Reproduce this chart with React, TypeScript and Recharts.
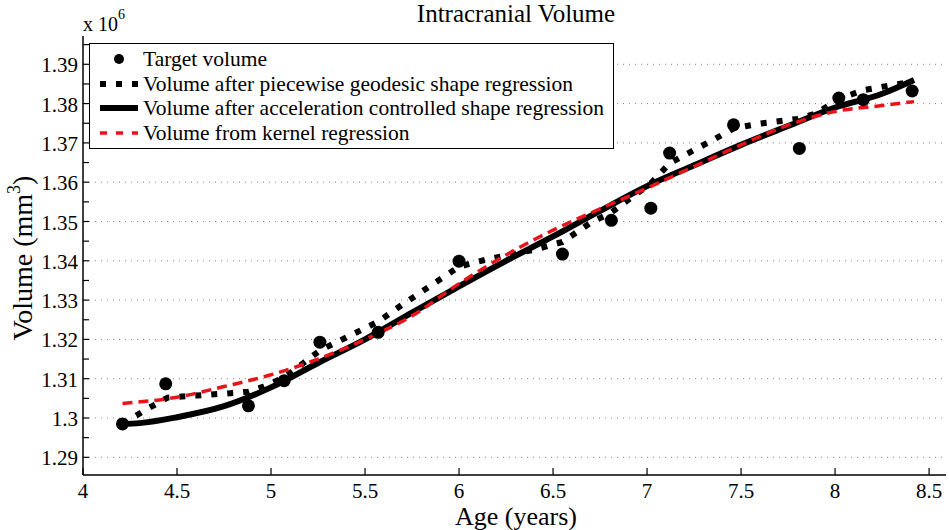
import React from "react";
import {
  ComposedChart,
  Line,
  Scatter,
  XAxis,
  YAxis,
  CartesianGrid,
  Legend,
} from "recharts";

// target volumes (x 10^6 mm^3)
const targetAge = [4.21, 4.44, 4.88, 5.07, 5.26, 5.57, 6.0, 6.55, 6.81, 7.02, 7.12, 7.46, 7.81, 8.02, 8.15, 8.41];
const targetVol = [1.2985, 1.3087, 1.3031, 1.3095, 1.3193, 1.3218, 1.3399, 1.3417, 1.3503, 1.3534, 1.3674, 1.3746, 1.3686, 1.3814, 1.381, 1.3832];

// piecewise geodesic regression
const pwAge = [4.21, 4.33, 4.45, 4.6, 4.75, 4.88, 4.96, 5.07, 5.17, 5.26, 5.4, 5.57, 5.7, 5.85, 6.0, 6.1, 6.25, 6.4, 6.55, 6.7, 6.81, 6.9, 7.02, 7.12, 7.25, 7.35, 7.46, 7.6, 7.8, 7.9, 8.02, 8.15, 8.3, 8.41];
const pwVol = [1.2985, 1.302, 1.3052, 1.3057, 1.3062, 1.3067, 1.308, 1.3103, 1.3139, 1.3172, 1.3205, 1.3245, 1.3289, 1.3337, 1.3385, 1.3398, 1.3414, 1.3428, 1.3448, 1.3497, 1.3523, 1.3555, 1.3597, 1.3648, 1.3682, 1.3707, 1.3737, 1.3749, 1.3761, 1.3775, 1.3812, 1.3834, 1.3847, 1.3855];

// acceleration controlled regression
const accAge = [4.21, 4.3, 4.5, 4.75, 5.0, 5.25, 5.5, 5.75, 6.0, 6.25, 6.5, 6.75, 7.0, 7.25, 7.5, 7.75, 8.0, 8.25, 8.42];
const accVol = [1.2985, 1.2987, 1.3002, 1.303, 1.3078, 1.314, 1.32, 1.3268, 1.3335, 1.34, 1.3462, 1.3527, 1.359, 1.3643, 1.3695, 1.3743, 1.379, 1.3825, 1.386];

// kernel regression
const kerAge = [4.21, 4.5, 4.75, 5.0, 5.25, 5.5, 5.75, 6.0, 6.25, 6.5, 6.75, 7.0, 7.25, 7.5, 7.75, 8.0, 8.25, 8.42];
const kerVol = [1.3037, 1.3053, 1.308, 1.311, 1.315, 1.32, 1.326, 1.3342, 1.3415, 1.3478, 1.3532, 1.3585, 1.364, 1.3695, 1.3745, 1.378, 1.3795, 1.3805];

const xTicks = [4, 4.5, 5, 5.5, 6, 6.5, 7, 7.5, 8, 8.5];
const yTicks = [1.29, 1.295, 1.3, 1.305, 1.31, 1.315, 1.32, 1.325, 1.33, 1.335, 1.34, 1.345, 1.35, 1.355, 1.36, 1.365, 1.37, 1.375, 1.38, 1.385, 1.39, 1.395];
const yLabelTicks = [1.29, 1.3, 1.31, 1.32, 1.33, 1.34, 1.35, 1.36, 1.37, 1.38, 1.39];

const zip = (xs: number[], ys: number[]) => xs.map((x, i) => ({ x, v: ys[i] }));
const targetData = zip(targetAge, targetVol);
const pwData = zip(pwAge, pwVol);
const accData = zip(accAge, accVol);
const kerData = zip(kerAge, kerVol);

const FONT = '"Liberation Serif", "Times New Roman", serif';
const txt = (size: number) => ({ fontFamily: FONT, fontSize: size });
const isMajor = (v: number) => Math.abs(v * 100 - Math.round(v * 100)) < 1e-6;

const BottomTick = (props: any) => {
  const { x, y, payload } = props;
  return (
    <g>
      <line x1={x} x2={x} y1={y} y2={y - 7} stroke="#000" strokeWidth={1.2} />
      <text x={x} y={y + 23} textAnchor="middle" style={txt(21)} fill="#000">
        {String(payload.value)}
      </text>
    </g>
  );
};

const TopTick = (props: any) => {
  const { x, y } = props;
  return <line x1={x} x2={x} y1={y} y2={y + 7} stroke="#000" strokeWidth={1.2} />;
};

const LeftTick = (props: any) => {
  const { x, y, payload } = props;
  const v = payload.value;
  return (
    <g>
      <line x1={x} x2={x + 6} y1={y} y2={y} stroke="#000" strokeWidth={1.2} />
      {isMajor(v) && (
        <text x={x - 5} y={y + 8} textAnchor="end" style={txt(21)} fill="#000">
          {String(Math.round(v * 100) / 100)}
        </text>
      )}
    </g>
  );
};

const RightTick = (props: any) => {
  const { x, y } = props;
  return <line x1={x} x2={x - 6} y1={y} y2={y} stroke="#000" strokeWidth={1.2} />;
};

const renderYLabel = () => (
  <text transform="translate(32,258) rotate(-90)" textAnchor="middle" style={txt(28)} fill="#000">
    Volume (mm
    <tspan dy={-12} style={txt(18)}>3</tspan>
    <tspan dy={12}>)</tspan>
  </text>
);

const renderXLabel = () => (
  <text x={516} y={525} textAnchor="middle" style={txt(26)} fill="#000">
    Age (years)
  </text>
);

const legendItems = [
  { label: "Target volume", kind: "dot" },
  { label: "Volume after piecewise geodesic shape regression", kind: "dotted" },
  { label: "Volume after acceleration controlled shape regression", kind: "solid" },
  { label: "Volume from kernel regression", kind: "red" },
];

const Swatch = ({ kind }: { kind: string }) => (
  <svg width={42} height={24} style={{ display: "block" }}>
    {kind === "dot" && <circle cx={21} cy={12} r={5} fill="#000" />}
    {kind === "dotted" && (
      <line x1={2} x2={40} y1={12} y2={12} stroke="#000" strokeWidth={6} strokeDasharray="6 10" />
    )}
    {kind === "solid" && <line x1={2} x2={40} y1={12} y2={12} stroke="#000" strokeWidth={6} />}
    {kind === "red" && (
      <line x1={2} x2={40} y1={12} y2={12} stroke="#e8141a" strokeWidth={3.5} strokeDasharray="7 9" />
    )}
  </svg>
);

const renderLegend = () => (
  <div
    style={{
      width: 525,
      height: 106,
      boxSizing: "border-box",
      border: "1.5px solid #000",
      background: "#fff",
      paddingTop: 3,
      fontFamily: FONT,
      fontSize: 21.5,
      color: "#000",
    }}
  >
    {legendItems.map((it) => (
      <div key={it.label} style={{ display: "flex", alignItems: "center", height: 24.5, lineHeight: "24px" }}>
        <div style={{ width: 8 }} />
        <Swatch kind={it.kind} />
        <span style={{ marginLeft: 3, whiteSpace: "nowrap" }}>{it.label}</span>
      </div>
    ))}
  </div>
);

export default function App() {
  return (
    <div style={{ position: "relative", width: 949, height: 530, background: "#fff" }}>
      <style>{`body{margin:0;background:#fff}`}</style>
      <ComposedChart width={949} height={530} margin={{ top: 36, right: 3, bottom: 0, left: 0 }}>
        <CartesianGrid
          vertical={false}
          horizontalValues={yLabelTicks}
          stroke="#888"
          strokeDasharray="1 5"
        />
        <XAxis
          dataKey="x"
          type="number"
          domain={[4, 8.59]}
          ticks={xTicks}
          allowDataOverflow
          height={55}
          tickSize={0}
          tickMargin={0}
          tickLine={false}
          axisLine={{ stroke: "#000", strokeWidth: 1.5 }}
          tick={<BottomTick />}
          interval={0}
          label={renderXLabel}
        />
        <XAxis
          xAxisId="top"
          orientation="top"
          dataKey="x"
          type="number"
          domain={[4, 8.59]}
          ticks={xTicks}
          allowDataOverflow
          height={0}
          tickSize={0}
          tickMargin={0}
          tickLine={false}
          axisLine={{ stroke: "#000", strokeWidth: 1.5 }}
          tick={<TopTick />}
          interval={0}
        />
        <YAxis
          dataKey="v"
          type="number"
          domain={[1.2855, 1.3972]}
          ticks={yTicks}
          allowDataOverflow
          width={83}
          tickSize={0}
          tickMargin={0}
          tickLine={false}
          axisLine={{ stroke: "#000", strokeWidth: 1.5 }}
          tick={<LeftTick />}
          interval={0}
          label={renderYLabel}
        />
        <YAxis
          yAxisId="right"
          orientation="right"
          dataKey="v"
          type="number"
          domain={[1.2855, 1.3972]}
          ticks={yTicks}
          allowDataOverflow
          width={0}
          tickSize={0}
          tickMargin={0}
          tickLine={false}
          axisLine={{ stroke: "#000", strokeWidth: 1.5 }}
          tick={<RightTick />}
          interval={0}
        />
        <Legend
          layout="vertical"
          align="center"
          verticalAlign="middle"
          content={renderLegend}
          wrapperStyle={{ position: "absolute", left: 89, top: 43, width: 525, height: 106 }}
        />
        <Scatter
          data={targetData}
          dataKey="v"
          isAnimationActive={false}
          shape={(p: any) => <circle cx={p.cx} cy={p.cy} r={6.5} fill="#000" />}
        />
        <Line
          data={pwData}
          dataKey="v"
          type="linear"
          stroke="#000"
          strokeWidth={6}
          strokeDasharray="6 10"
          dot={false}
          activeDot={false}
          isAnimationActive={false}
        />
        <Line
          data={accData}
          dataKey="v"
          type="monotone"
          stroke="#000"
          strokeWidth={6}
          dot={false}
          activeDot={false}
          isAnimationActive={false}
        />
        <Line
          data={kerData}
          dataKey="v"
          type="monotone"
          stroke="#e8141a"
          strokeWidth={3.5}
          strokeDasharray="10 6"
          dot={false}
          activeDot={false}
          isAnimationActive={false}
        />
      </ComposedChart>
      {/* title and exponent note */}
      <svg
        width={949}
        height={36}
        style={{ position: "absolute", left: 0, top: 0, pointerEvents: "none" }}
      >
        <text x={516} y={22} textAnchor="middle" fontFamily={FONT} fontSize={25} fill="#000">
          Intracranial Volume
        </text>
        <text x={83} y={31} fontFamily={FONT} fontSize={20} fill="#000">
          x 10
          <tspan dy={-12} fontSize={14}>6</tspan>
        </text>
      </svg>
    </div>
  );
}
